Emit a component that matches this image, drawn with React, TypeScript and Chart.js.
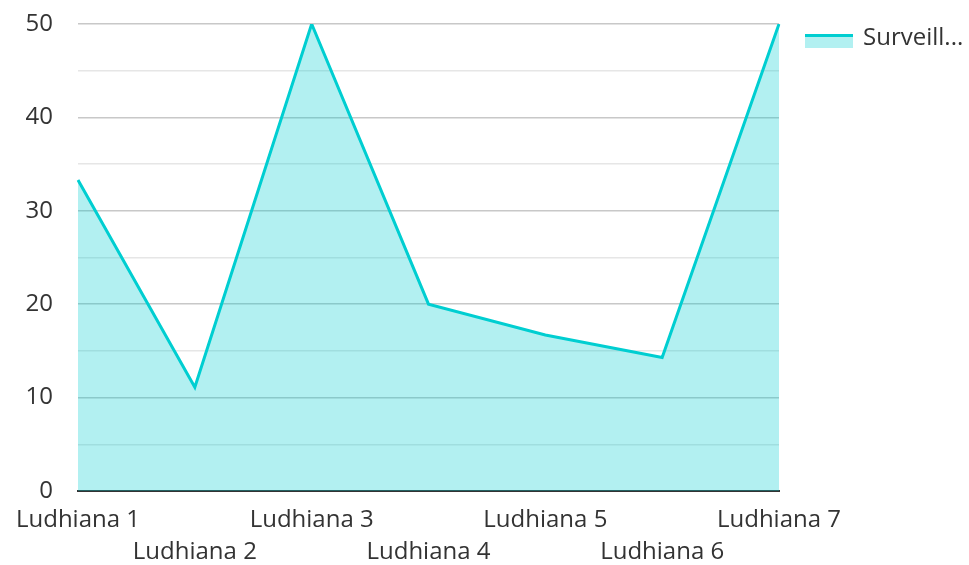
import React, { useEffect, useRef } from "react";
import { Chart, registerables } from "chart.js";

Chart.register(...registerables);

const categories = ["Ludhiana 1", "Ludhiana 2", "Ludhiana 3", "Ludhiana 4", "Ludhiana 5", "Ludhiana 6", "Ludhiana 7"];
const seriesName = "Surveillance";
const seriesValues = [33.3, 11.1, 50, 20, 16.7, 14.3, 50];
const yTickLabels = [0, 10, 20, 30, 40, 50];

const LINE = "#00CED1";
const FILL = "rgba(0,206,209,0.3)";
const FONT = "'Open Sans', 'Noto Sans', sans-serif";

const legendPlugin = {
  id: "customLegend",
  afterDraw(chart: any) {
    const ctx = chart.ctx;
    ctx.save();
    const x = 805, y = 34;
    ctx.fillStyle = FILL;
    ctx.fillRect(x, y, 48, 14);
    ctx.strokeStyle = LINE;
    ctx.lineWidth = 3;
    ctx.beginPath();
    ctx.moveTo(x, y + 1.5);
    ctx.lineTo(x + 48, y + 1.5);
    ctx.stroke();
    ctx.fillStyle = "#333";
    ctx.font = `24px ${FONT}`;
    ctx.textBaseline = "middle";
    ctx.textAlign = "left";
    ctx.fillText("Surveill...", 863, 38);
    ctx.restore();
  },
};

export default function App() {
  const ref = useRef<HTMLCanvasElement>(null);
  useEffect(() => {
    const chart = new Chart(ref.current!, {
      type: "line",
      data: {
        labels: categories.map((c, i) => (i % 2 === 0 ? [c, ""] : ["", c])),
        datasets: [
          {
            label: seriesName,
            data: seriesValues,
            borderColor: LINE,
            backgroundColor: FILL,
            borderWidth: 3,
            fill: "origin",
            pointRadius: 0,
            tension: 0,
          },
        ],
      },
      options: {
        animation: false,
        responsive: false,
        layout: { padding: { top: 24, right: 190, left: 0, bottom: 0 } },
        plugins: { legend: { display: false }, tooltip: { enabled: false } },
        scales: {
          x: {
            offset: false,
            grid: { display: false, drawTicks: false },
            border: { display: true, color: "#333", width: 2 },
            ticks: {
              autoSkip: false,
              maxRotation: 0,
              minRotation: 0,
              color: "#333",
              padding: 14,
              font: { family: FONT, size: 24, lineHeight: 1.3 },
            },
            afterFit(scale: any) {
              scale.height = 74;
              scale.paddingLeft = 0;
              scale.paddingRight = 0;
            },
          },
          y: {
            min: 0,
            max: 50,
            ticks: {
              stepSize: 5,
              color: "#333",
              padding: 25,
              font: { family: FONT, size: 24 },
              callback: (v: any) => (yTickLabels.includes(Number(v)) ? String(v) : ""),
            },
            grid: {
              drawTicks: false,
              color: (c: any) => (c.tick && c.tick.value % 10 === 0 ? "#c8c8c8" : "#e6e6e6"),
              lineWidth: 1.5,
            },
            border: { display: false },
            afterFit(scale: any) {
              scale.width = 78;
              scale.paddingTop = 0;
              scale.paddingBottom = 0;
            },
          },
        },
      },
      plugins: [legendPlugin],
    });
    return () => chart.destroy();
  }, []);
  return (
    <div style={{ position: "fixed", left: 0, top: 0, width: 969, height: 565 }}>
      <canvas ref={ref} width={969} height={565} style={{ width: 969, height: 565 }} />
    </div>
  );
}
